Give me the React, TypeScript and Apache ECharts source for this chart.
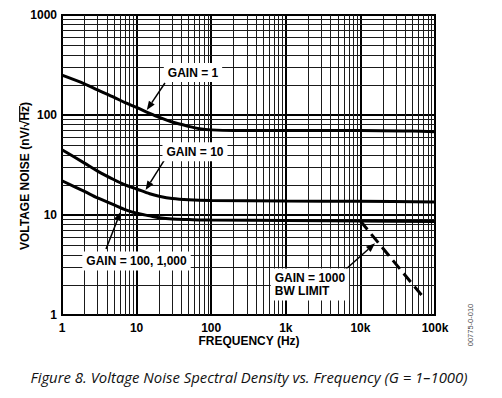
import React, { useEffect, useRef } from "react";
import * as echarts from "echarts";

const FREQ_TICK_LABELS: Record<number, string> = { 1: "1", 10: "10", 100: "100", 1000: "1k", 10000: "10k", 100000: "100k" };

const gain1Freq = [1, 2, 3, 5, 7, 10, 15, 20, 30, 50, 70, 100, 200, 1000, 10000, 50000, 100000];
const gain1Noise = [250, 205, 178, 150, 133, 119, 104, 95, 85, 77, 73, 71, 70, 70, 70, 69, 68];

const gain10Freq = [1, 2, 3, 5, 7, 10, 15, 20, 30, 50, 100, 1000, 10000, 100000];
const gain10Noise = [45, 33, 27.5, 22.5, 20, 18.2, 16.3, 15.4, 14.6, 14.2, 14, 13.8, 13.7, 13.5];

const gain100Freq = [1, 2, 3, 5, 7, 10, 15, 20, 30, 50, 100, 1000, 10000, 100000];
const gain100Noise = [22, 17.2, 14.8, 12.6, 11.3, 10.4, 9.8, 9.4, 9.1, 9, 8.9, 8.8, 8.7, 8.6];

const bwFreq = [10000, 70000];
const bwNoise = [8.7, 1.5];

const annotations = [
  { lines: ["GAIN = 1"], at: [57, 266], from: [24, 209], to: [13.7, 112], align: "center" },
  { lines: ["GAIN = 10"], at: [60.6, 43], from: [24.5, 37], to: [13.2, 17.8], align: "center" },
  { lines: ["GAIN = 100, 1,000"], at: [9.97, 3.47], from: [3.89, 4.57], to: [6.12, 10.8], align: "center" },
  { lines: ["GAIN = 1000", "BW LIMIT"], at: [628, 2.02], from: [6220, 2.82], to: [15700, 5.21], align: "left" },
];

const BOLD = "Liberation Sans, Arial, sans-serif";
const Y_TITLE = "VOLTAGE NOISE (nV/√Hz)";

export default function App() {
  const ref = useRef<HTMLDivElement>(null);
  useEffect(() => {
    const chart = echarts.init(ref.current!, null, { renderer: "svg" });
    const minorX: number[] = [];
    [1, 10, 100, 1000, 10000].forEach((d) => { for (let k = 2; k <= 9; k++) minorX.push(d * k); });
    const minorY: number[] = [];
    [1, 10, 100].forEach((d) => { for (let k = 2; k <= 9; k++) minorY.push(d * k); });

    const curve = (f: number[], v: number[]) => f.map((x, i) => [x, v[i]]);
    const axisLabel = { color: "#000", fontFamily: BOLD, fontWeight: "bold", fontSize: 12 };

    chart.setOption({
      animation: false,
      grid: { left: 62, right: 67, top: 15, bottom: 83, show: true, borderColor: "#000", borderWidth: 2, backgroundColor: "transparent" },
      xAxis: {
        type: "log", logBase: 10, min: 1, max: 100000,
        axisLine: { show: true, lineStyle: { color: "#000", width: 2 } },
        axisTick: { show: false },
        axisLabel: { ...axisLabel, margin: 7, formatter: (v: number) => FREQ_TICK_LABELS[Math.round(v)] ?? "" },
        splitLine: { show: true, lineStyle: { color: "#000", width: 2 } },
      },
      yAxis: {
        type: "log", logBase: 10, min: 1, max: 1000,
        axisLine: { show: true, lineStyle: { color: "#000", width: 2 } },
        axisTick: { show: false },
        axisLabel: { ...axisLabel, margin: 5, formatter: (v: number) => String(Math.round(v)) },
        splitLine: { show: true, lineStyle: { color: "#000", width: 2 } },
      },
      series: [
        {
          type: "line", data: curve(gain1Freq, gain1Noise), symbol: "none", smooth: 0.3,
          lineStyle: { color: "#000", width: 3 },
          markLine: {
            silent: true, symbol: ["none", "none"], label: { show: false }, z: 1,
            lineStyle: { color: "#1a1a1a", width: 1, type: "solid" },
            emphasis: { disabled: true },
            data: [...minorX.map((v) => ({ xAxis: v })), ...minorY.map((v) => ({ yAxis: v }))],
          },
        },
        { type: "line", data: curve(gain10Freq, gain10Noise), symbol: "none", smooth: 0.3, lineStyle: { color: "#000", width: 3 } },
        { type: "line", data: curve(gain100Freq, gain100Noise), symbol: "none", smooth: 0.3, lineStyle: { color: "#000", width: 3 } },
        { type: "line", data: curve(bwFreq, bwNoise), symbol: "none", lineStyle: { color: "#000", width: 3, type: [11, 6] } },
      ],
    });

    const graphics: any[] = [];
    annotations.forEach((a) => {
      const p = chart.convertToPixel({ gridIndex: 0 }, a.at) as number[];
      const s = chart.convertToPixel({ gridIndex: 0 }, a.from) as number[];
      const t = chart.convertToPixel({ gridIndex: 0 }, a.to) as number[];
      const dx = t[0] - s[0], dy = t[1] - s[1];
      const len = Math.sqrt(dx * dx + dy * dy);
      const ux = dx / len, uy = dy / len;
      const hl = 9, hw = 3.5;
      const bx = t[0] - ux * hl, by = t[1] - uy * hl;
      graphics.push({
        type: "line", z: 50,
        shape: { x1: s[0], y1: s[1], x2: bx, y2: by },
        style: { stroke: "#000", lineWidth: 1.5 },
      });
      graphics.push({
        type: "polygon", z: 50,
        shape: { points: [[t[0], t[1]], [bx - uy * hw, by + ux * hw], [bx + uy * hw, by - ux * hw]] },
        style: { fill: "#000" },
      });
      graphics.push({
        type: "text", z: 60, x: p[0], y: p[1],
        style: {
          text: a.lines.join("\n"), fill: "#000", font: `bold 12px ${BOLD}`,
          align: a.align, verticalAlign: "middle", lineHeight: 13,
          backgroundColor: "#fff", padding: [3, 4, 3, 4],
        },
      });
    });

    // y-axis title with overline over "Hz"
    const titleX = 25, titleY = 176;
    let wAll = 150, wTail = 4, wHz = 14.7;
    try {
      const ctx = document.createElement("canvas").getContext("2d")!;
      ctx.font = `bold 12px ${BOLD}`;
      wAll = ctx.measureText(Y_TITLE).width;
      wTail = ctx.measureText(")").width;
      wHz = ctx.measureText("Hz").width;
    } catch (e) { /* keep estimates */ }
    const topEnd = titleY - wAll / 2;
    graphics.push({
      type: "text", z: 60, x: titleX, y: titleY, rotation: Math.PI / 2,
      style: { text: Y_TITLE, fill: "#000", font: `bold 12px ${BOLD}`, align: "center", verticalAlign: "middle" },
    });
    graphics.push({
      type: "line", z: 60,
      shape: { x1: titleX - 5.3, y1: topEnd + wTail + 0.2, x2: titleX - 5.3, y2: topEnd + wTail + wHz + 1.2 },
      style: { stroke: "#000", lineWidth: 1.2 },
    });
    graphics.push({
      type: "text", z: 60, x: 249, y: 341,
      style: { text: "FREQUENCY (Hz)", fill: "#000", font: `bold 12px ${BOLD}`, align: "center", verticalAlign: "middle" },
    });
    graphics.push({
      type: "text", z: 60, x: 470, y: 325, rotation: Math.PI / 2,
      style: { text: "00775-0-010", fill: "#444", font: `7.5px ${BOLD}`, align: "center", verticalAlign: "middle" },
    });
    graphics.push({
      type: "text", z: 60, x: 249, y: 377,
      style: { text: "Figure 8. Voltage Noise Spectral Density vs. Frequency (G = 1–1000)", fill: "#111", font: "italic 14.9px 'Open Sans', sans-serif", align: "center", verticalAlign: "middle" },
    });

    chart.setOption({ graphic: graphics });
    return () => chart.dispose();
  }, []);
  return (
    <div style={{ position: "fixed", left: 0, top: 0, width: 502, height: 398, background: "#fff" }}>
      <div ref={ref} style={{ width: 502, height: 398 }} />
    </div>
  );
}
